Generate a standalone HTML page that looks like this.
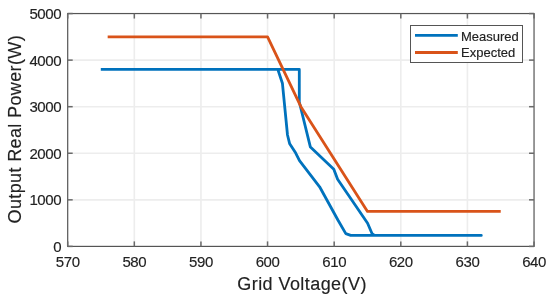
<!DOCTYPE html>
<html><head><meta charset="utf-8"><title>Grid Voltage vs Output Real Power</title>
<style>html,body{margin:0;padding:0;background:#fff;width:550px;height:300px;overflow:hidden}svg{display:block}</style>
</head><body>
<svg width="550" height="300" viewBox="0 0 550 300" font-family="'Liberation Sans', Arial, sans-serif" font-size="15" fill="#222222" stroke-width="0">
<rect width="550" height="300" fill="#fff"/>
<line x1="134.32" y1="13.55" x2="134.32" y2="246.4" stroke="#ededed" stroke-width="1.6"/>
<line x1="200.94" y1="13.55" x2="200.94" y2="246.4" stroke="#ededed" stroke-width="1.6"/>
<line x1="267.56" y1="13.55" x2="267.56" y2="246.4" stroke="#ededed" stroke-width="1.6"/>
<line x1="334.18" y1="13.55" x2="334.18" y2="246.4" stroke="#ededed" stroke-width="1.6"/>
<line x1="400.8" y1="13.55" x2="400.8" y2="246.4" stroke="#ededed" stroke-width="1.6"/>
<line x1="467.42" y1="13.55" x2="467.42" y2="246.4" stroke="#ededed" stroke-width="1.6"/>
<line x1="67.7" y1="199.83" x2="534.04" y2="199.83" stroke="#ededed" stroke-width="1.6"/>
<line x1="67.7" y1="153.26" x2="534.04" y2="153.26" stroke="#ededed" stroke-width="1.6"/>
<line x1="67.7" y1="106.69" x2="534.04" y2="106.69" stroke="#ededed" stroke-width="1.6"/>
<line x1="67.7" y1="60.12" x2="534.04" y2="60.12" stroke="#ededed" stroke-width="1.6"/>
<polyline points="100.80,69.40 299.30,69.40 299.30,102.00 310.40,147.10 333.80,169.20 337.60,179.20 367.60,223.20 372.00,233.50 374.50,235.40 481.30,235.40 350.70,235.40 345.80,233.60 337.90,220.00 319.60,186.80 299.50,160.70 295.70,153.10 289.70,143.80 287.50,135.00 282.40,83.20 277.80,69.40" fill="none" stroke="#0072BD" stroke-width="2.8" stroke-linejoin="round" stroke-linecap="butt"/>
<polyline points="107.67,36.84 267.56,36.84 300.87,106.69 367.49,211.47 500.73,211.47" fill="none" stroke="#D95319" stroke-width="2.8" stroke-linejoin="round" stroke-linecap="butt"/>
<rect x="67.7" y="13.55" width="466.34" height="232.85" fill="none" stroke="#555555" stroke-width="1.2"/>
<line x1="67.7" y1="246.4" x2="67.7" y2="241.4" stroke="#6a6a6a" stroke-width="1.5"/>
<line x1="67.7" y1="13.55" x2="67.7" y2="18.55" stroke="#6a6a6a" stroke-width="1.5"/>
<line x1="134.32" y1="246.4" x2="134.32" y2="241.4" stroke="#6a6a6a" stroke-width="1.5"/>
<line x1="134.32" y1="13.55" x2="134.32" y2="18.55" stroke="#6a6a6a" stroke-width="1.5"/>
<line x1="200.94" y1="246.4" x2="200.94" y2="241.4" stroke="#6a6a6a" stroke-width="1.5"/>
<line x1="200.94" y1="13.55" x2="200.94" y2="18.55" stroke="#6a6a6a" stroke-width="1.5"/>
<line x1="267.56" y1="246.4" x2="267.56" y2="241.4" stroke="#6a6a6a" stroke-width="1.5"/>
<line x1="267.56" y1="13.55" x2="267.56" y2="18.55" stroke="#6a6a6a" stroke-width="1.5"/>
<line x1="334.18" y1="246.4" x2="334.18" y2="241.4" stroke="#6a6a6a" stroke-width="1.5"/>
<line x1="334.18" y1="13.55" x2="334.18" y2="18.55" stroke="#6a6a6a" stroke-width="1.5"/>
<line x1="400.8" y1="246.4" x2="400.8" y2="241.4" stroke="#6a6a6a" stroke-width="1.5"/>
<line x1="400.8" y1="13.55" x2="400.8" y2="18.55" stroke="#6a6a6a" stroke-width="1.5"/>
<line x1="467.42" y1="246.4" x2="467.42" y2="241.4" stroke="#6a6a6a" stroke-width="1.5"/>
<line x1="467.42" y1="13.55" x2="467.42" y2="18.55" stroke="#6a6a6a" stroke-width="1.5"/>
<line x1="534.04" y1="246.4" x2="534.04" y2="241.4" stroke="#6a6a6a" stroke-width="1.5"/>
<line x1="534.04" y1="13.55" x2="534.04" y2="18.55" stroke="#6a6a6a" stroke-width="1.5"/>
<line x1="67.7" y1="246.4" x2="72.7" y2="246.4" stroke="#6a6a6a" stroke-width="1.5"/>
<line x1="534.04" y1="246.4" x2="529.04" y2="246.4" stroke="#6a6a6a" stroke-width="1.5"/>
<line x1="67.7" y1="199.83" x2="72.7" y2="199.83" stroke="#6a6a6a" stroke-width="1.5"/>
<line x1="534.04" y1="199.83" x2="529.04" y2="199.83" stroke="#6a6a6a" stroke-width="1.5"/>
<line x1="67.7" y1="153.26" x2="72.7" y2="153.26" stroke="#6a6a6a" stroke-width="1.5"/>
<line x1="534.04" y1="153.26" x2="529.04" y2="153.26" stroke="#6a6a6a" stroke-width="1.5"/>
<line x1="67.7" y1="106.69" x2="72.7" y2="106.69" stroke="#6a6a6a" stroke-width="1.5"/>
<line x1="534.04" y1="106.69" x2="529.04" y2="106.69" stroke="#6a6a6a" stroke-width="1.5"/>
<line x1="67.7" y1="60.12" x2="72.7" y2="60.12" stroke="#6a6a6a" stroke-width="1.5"/>
<line x1="534.04" y1="60.12" x2="529.04" y2="60.12" stroke="#6a6a6a" stroke-width="1.5"/>
<line x1="67.7" y1="13.55" x2="72.7" y2="13.55" stroke="#6a6a6a" stroke-width="1.5"/>
<line x1="534.04" y1="13.55" x2="529.04" y2="13.55" stroke="#6a6a6a" stroke-width="1.5"/>
<rect x="410.5" y="25.5" width="112.0" height="37.0" fill="#fff" stroke="#555555" stroke-width="1"/>
<line x1="415" y1="35.3" x2="457.8" y2="35.3" stroke="#0072BD" stroke-width="2.8"/>
<line x1="415" y1="52.5" x2="457.8" y2="52.5" stroke="#D95319" stroke-width="2.8"/>
<text stroke="#222222" stroke-width="0.15" x="461" y="41.4" font-size="13">Measured</text>
<text stroke="#222222" stroke-width="0.15" x="461" y="57.4" font-size="13">Expected</text>
<g stroke="#222222" stroke-width="0.15">
<text x="67.70" y="266.6" text-anchor="middle" letter-spacing="-0.4">570</text>
<text x="134.32" y="266.6" text-anchor="middle" letter-spacing="-0.4">580</text>
<text x="200.94" y="266.6" text-anchor="middle" letter-spacing="-0.4">590</text>
<text x="267.56" y="266.6" text-anchor="middle" letter-spacing="-0.4">600</text>
<text x="334.18" y="266.6" text-anchor="middle" letter-spacing="-0.4">610</text>
<text x="400.80" y="266.6" text-anchor="middle" letter-spacing="-0.4">620</text>
<text x="467.42" y="266.6" text-anchor="middle" letter-spacing="-0.4">630</text>
<text x="534.04" y="266.6" text-anchor="middle" letter-spacing="-0.4">640</text>
<text x="61.2" y="251.90" text-anchor="end" letter-spacing="-0.4">0</text>
<text x="61.2" y="205.33" text-anchor="end" letter-spacing="-0.4">1000</text>
<text x="61.2" y="158.76" text-anchor="end" letter-spacing="-0.4">2000</text>
<text x="61.2" y="112.19" text-anchor="end" letter-spacing="-0.4">3000</text>
<text x="61.2" y="65.62" text-anchor="end" letter-spacing="-0.4">4000</text>
<text x="61.2" y="19.05" text-anchor="end" letter-spacing="-0.4">5000</text>
<text x="237.3" y="290.2" font-size="18" letter-spacing="0.43">Grid Voltage(V)</text>
<text transform="translate(20.6,223.4) rotate(-90)" font-size="18" letter-spacing="0.37">Output Real Power(W)</text>
</g>
</svg>
</body></html>
